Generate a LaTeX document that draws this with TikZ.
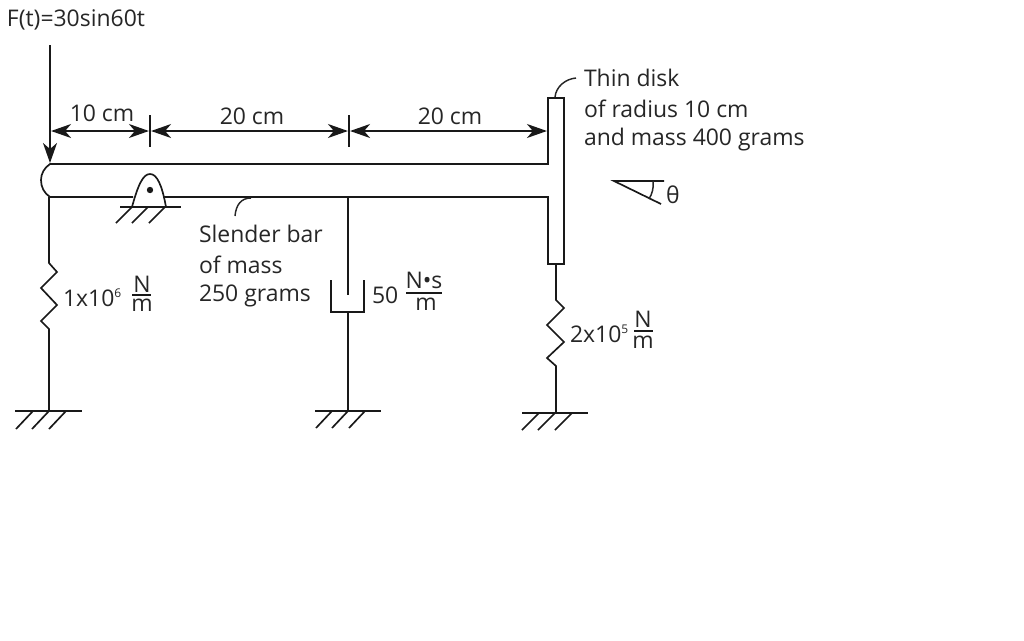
\documentclass[tikz,border=0pt]{standalone}
\usepackage{fontspec}
\setmainfont{Open Sans}
\usetikzlibrary{arrows.meta}
\tikzset{
  ln/.style={line width=1.25pt,draw=black!90},
  thin line/.style={line width=1.1pt,draw=black!85},
  dimarrow/.style={ln,{Stealth[length=15pt,width=10.5pt,inset=4.5pt]}-{Stealth[length=15pt,width=10.5pt,inset=4.5pt]},shorten <=0.8pt,shorten >=0.8pt},
  forcearrow/.style={ln,-{Stealth[length=15pt,width=10.5pt,inset=4.5pt]}},
  lab/.style={inner sep=0pt,outer sep=0pt,font=\fontsize{17.2pt}{20pt}\selectfont,text=black!85},
  lableft/.style={lab,anchor=west},
  frac/.style={lab,anchor=center}
}
\begin{document}
\begin{tikzpicture}[x=0.75pt,y=-0.75pt]
\useasboundingbox (0,0) rectangle (1024,640);
% --- named anchor points
\coordinate (forcetop) at (50,45);
\coordinate (forcetip) at (50,163);
\coordinate (d0) at (50,131);
\coordinate (d1) at (150,131);
\coordinate (d2) at (349,131);
\coordinate (d3) at (548,131);
% force
\draw[forcearrow] (forcetop) -- (forcetip);
% dimensions
\draw[dimarrow] (d0) -- (d1);
\draw[dimarrow] (d1) -- (d2);
\draw[dimarrow] (d2) -- (d3);
\draw[ln] (150,115) -- (150,147);
\draw[ln] (349,115) -- (349,147);
% bar and disk outline
\draw[ln,line join=miter] (133,197) -- (50,197) .. controls (44,193) and (41,187) .. (41,180) .. controls (41,174) and (44,168) .. (50,164) -- (548,164) -- (548,98) -- (564,98) -- (564,264) -- (548,264) -- (548,197) -- (163,197);
% disk and bar leaders
\draw[thin line] (555,97) .. controls (556,87) and (565,79) .. (576,78);
\draw[thin line] (235,216) .. controls (236,205) and (241,198) .. (251,198);
% pivot
\draw[ln] (132,207) .. controls (138,185) and (143,174) .. (150,174) .. controls (157,174) and (162,185) .. (166,207);
\fill[black!90] (150,190) circle[radius=2.4pt];
\draw[ln] (120,207) -- (181,207);
\foreach \a in {116,132,149}{\draw[ln] (\a,223) -- ++(16,-16);}
% left spring
\draw[ln,line join=miter] (49,197) -- (49,263) -- (57,272) -- (41,288) -- (57,305) -- (41,321) -- (49,329) -- (49,411);
\draw[ln] (15,411) -- (82,411);
\foreach \a in {16,32,49}{\draw[ln] (\a,429) -- ++(17,-18);}
% damper
\draw[ln] (348,197) -- (348,295);
\draw[ln,line join=miter] (331,280) -- (331,312) -- (364,312) -- (364,280);
\draw[ln] (348,312) -- (348,411);
\draw[ln] (315,411) -- (381,411);
\foreach \a in {316,332,349}{\draw[ln] (\a,428) -- ++(16,-17);}
% right spring
\draw[ln,line join=miter] (556,264) -- (556,300) -- (564,308) -- (547,325) -- (564,342) -- (547,358) -- (556,366) -- (556,413);
\draw[ln] (522,413) -- (588,413);
\foreach \a in {522,538,555}{\draw[ln] (\a,430) -- ++(17,-17);}
% angle symbol
\draw[ln] (664,181) -- (614,181) -- (661,204);
\draw[thin line] (653,181) .. controls (654,188) and (652,194) .. (649,199);
% labels
\node[lableft] (ft) at (7,20) {F(t)=30sin60t};
\node[lab] (dimA) at (102,113) {10 cm};
\node[lab] (dimB) at (252,116) {20 cm};
\node[lab] (dimC) at (450,116) {20 cm};
\node[lableft] (disk1) at (584,78) {Thin disk};
\node[lableft] (disk2) at (584,109) {of radius 10 cm};
\node[lableft] (disk3) at (584,140) {and mass 400 grams};
\node[lab] (theta) at (673,195) {θ};
\node[lableft] (bar1) at (199,234) {Slender bar};
\node[lableft] (bar2) at (199,265) {of mass};
\node[lableft] (bar3) at (199,296) {250 grams};
\node[lableft] (kA) at (63,298) {1x10\raisebox{7pt}{\fontsize{9pt}{10pt}\selectfont 6}};
\node[frac] (kAn) at (142,284) {N};
\draw[ln] (132,295) -- (151,295);
\node[frac] (kAd) at (142,305) {m};
\node[lableft] (cA) at (372,295) {50};
\node[frac] (cAn) at (424,280) {N•s};
\draw[ln] (406,293) -- (442,293);
\node[frac] (cAd) at (426,304) {m};
\node[lableft] (kB) at (570,334) {2x10\raisebox{7pt}{\fontsize{9pt}{10pt}\selectfont 5}};
\node[frac] (kBn) at (643,319) {N};
\draw[ln] (634,331) -- (653,331);
\node[frac] (kBd) at (643,342) {m};
\end{tikzpicture}
\end{document}
